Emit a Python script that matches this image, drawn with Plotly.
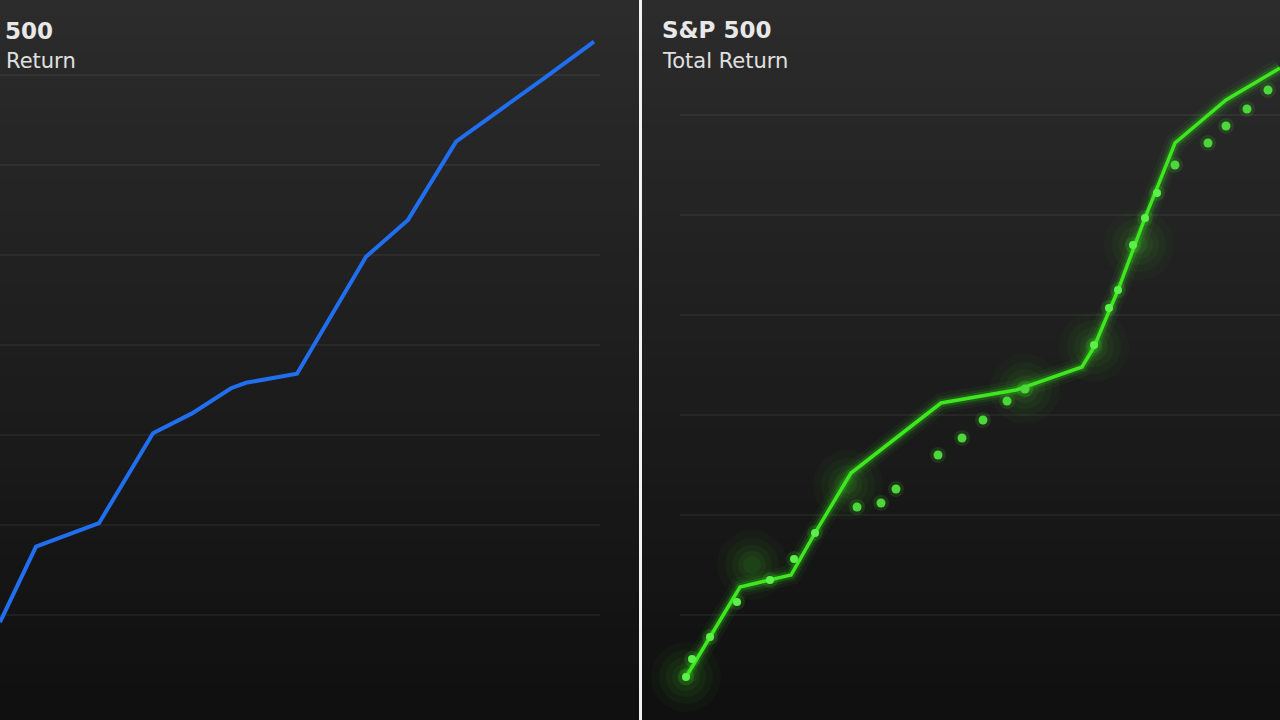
import plotly.graph_objects as go

# ---------------- data ----------------
# Left panel: S&P 500 return index (blue line)
left_years = [2000.0, 2001.2, 2003.3, 2005.1, 2006.4, 2007.7, 2008.2, 2009.9,
              2012.2, 2013.6, 2015.2, 2016.6, 2018.2, 2019.8]
left_values = [92, 176, 202, 302, 324, 352, 358, 368, 498, 539, 626, 659, 698, 737]

# Right panel: S&P 500 total return (green line)
right_years = [2000.2, 2002.0, 2002.7, 2003.7, 2004.5, 2005.7, 2008.7, 2011.2,
               2013.4, 2013.8, 2014.6, 2015.5, 2016.5, 2018.2, 2020.0]
right_values = [38, 128, 133, 140, 182, 242, 312, 325, 348, 368, 425, 497, 572, 615, 647]

# Glowing points sitting on the green line
on_line_years = [2000.2, 2000.4, 2001.0, 2001.9, 2003.0, 2003.8, 2004.5,
                 2013.8, 2014.3, 2014.6, 2015.1, 2015.5, 2015.9]
on_line_values = [38, 56, 78, 113, 135, 156, 182, 370, 407, 425, 470, 497, 522]

# Dotted points trailing under the green line
dot_years = [2005.9, 2006.7, 2007.2, 2008.6, 2009.4, 2010.1, 2010.9, 2011.5,
             2016.5, 2017.6, 2018.2, 2018.9, 2019.6]
dot_values = [208, 212, 226, 260, 277, 295, 314, 326, 550, 572, 589, 606, 625]

# Glow halos (bright spots)
halo_years = [2000.2, 2013.8, 2011.5, 2002.4, 2005.6, 2015.3]
halo_values = [38, 368, 326, 150, 230, 470]

left_grid = [100, 200, 300, 400, 500, 600, 700]
right_grid = [100, 200, 300, 400, 500, 600]

left_title = "500"
left_subtitle = "Return"
right_title = "S&P 500"
right_subtitle = "Total Return"

# ---------------- figure ----------------
fig = go.Figure()

GREEN = "#3ee81f"
BLUE = "#1f6ff0"

# left blue line
fig.add_trace(go.Scatter(x=left_years, y=left_values, mode="lines",
                         line=dict(color=BLUE, width=4), xaxis="x", yaxis="y",
                         hoverinfo="skip", showlegend=False))

# right: soft glow halos (stacked translucent discs)
for s, a in [(70, 0.035), (54, 0.04), (40, 0.05), (28, 0.06), (18, 0.08)]:
    fig.add_trace(go.Scatter(x=halo_years, y=halo_values, mode="markers", cliponaxis=False,
                             marker=dict(size=s, color=f"rgba(70,220,40,{a})", line=dict(width=0)),
                             xaxis="x2", yaxis="y2", hoverinfo="skip", showlegend=False))

# right: line glow layers
for w, a in [(20, 0.05), (13, 0.09), (8, 0.2)]:
    fig.add_trace(go.Scatter(x=right_years, y=right_values, mode="lines",
                             line=dict(color=f"rgba(60,230,30,{a})", width=w),
                             xaxis="x2", yaxis="y2", hoverinfo="skip", showlegend=False))
fig.add_trace(go.Scatter(x=right_years, y=right_values, mode="lines",
                         line=dict(color=GREEN, width=3.5),
                         xaxis="x2", yaxis="y2", hoverinfo="skip", showlegend=False))

# dots with glow
fig.add_trace(go.Scatter(x=dot_years + on_line_years, y=dot_values + on_line_values,
                         mode="markers", cliponaxis=False,
                         marker=dict(size=16, color="rgba(70,230,40,0.13)", line=dict(width=0)),
                         xaxis="x2", yaxis="y2", hoverinfo="skip", showlegend=False))
fig.add_trace(go.Scatter(x=dot_years, y=dot_values, mode="markers",
                         marker=dict(size=9, color="#4cd83a", line=dict(width=0)),
                         xaxis="x2", yaxis="y2", hoverinfo="skip", showlegend=False))
fig.add_trace(go.Scatter(x=on_line_years, y=on_line_values, mode="markers", cliponaxis=False,
                         marker=dict(size=8, color="#5cf04a", line=dict(width=0)),
                         xaxis="x2", yaxis="y2", hoverinfo="skip", showlegend=False))

# ---------------- background gradient ----------------
shapes = []
n = 40
top = (44, 44, 44)
bot = (16, 16, 16)
for i in range(n):
    t = i / (n - 1)
    c = tuple(int(top[k] + (bot[k] - top[k]) * t) for k in range(3))
    shapes.append(dict(type="rect", xref="paper", yref="paper",
                       x0=0, x1=1, y0=1 - (i + 1) / n, y1=1 - i / n + 0.002,
                       fillcolor=f"rgb{c}", line=dict(width=0), layer="below"))
# divider
shapes.append(dict(type="line", xref="paper", yref="paper", x0=640.5 / 1280, x1=640.5 / 1280,
                   y0=0, y1=1, line=dict(color="#f2f2f2", width=3), layer="above"))

common_axis = dict(showticklabels=False, zeroline=False, showline=False, ticks="")

fig.update_layout(
    width=1280, height=720,
    margin=dict(l=0, r=0, t=0, b=0),
    paper_bgcolor="#1a1a1a",
    plot_bgcolor="rgba(0,0,0,0)",
    shapes=shapes,
    xaxis=dict(domain=[0, 600 / 1280], range=[2000, 2020], showgrid=False, **common_axis),
    yaxis=dict(domain=[0, 1], range=[-16.67, 783.33], tickvals=left_grid, showgrid=True,
               gridcolor="rgba(255,255,255,0.05)", gridwidth=2, **common_axis),
    xaxis2=dict(domain=[680 / 1280, 1], range=[2000, 2020], showgrid=False, anchor="y2",
                **common_axis),
    yaxis2=dict(domain=[0, 1], range=[-5, 715], tickvals=right_grid, showgrid=True,
                gridcolor="rgba(255,255,255,0.05)", gridwidth=2, anchor="x2", **common_axis),
    annotations=[
        dict(text=f"<b>{left_title}</b>", xref="paper", yref="paper", x=3 / 1280, y=1 - 31 / 720,
             xanchor="left", yanchor="middle", showarrow=False,
             font=dict(family="DejaVu Sans", size=23, color="#e8e8e8")),
        dict(text=left_subtitle, xref="paper", yref="paper", x=4 / 1280, y=1 - 61 / 720,
             xanchor="left", yanchor="middle", showarrow=False,
             font=dict(family="DejaVu Sans", size=21, color="#e0e0e0")),
        dict(text=f"<b>{right_title}</b>", xref="paper", yref="paper", x=660 / 1280, y=1 - 30 / 720,
             xanchor="left", yanchor="middle", showarrow=False,
             font=dict(family="DejaVu Sans", size=23, color="#e8e8e8")),
        dict(text=right_subtitle, xref="paper", yref="paper", x=660 / 1280, y=1 - 61 / 720,
             xanchor="left", yanchor="middle", showarrow=False,
             font=dict(family="DejaVu Sans", size=21, color="#e0e0e0")),
    ],
)

fig.write_html("out.html", config={"displayModeBar": False},
               post_script="document.body.style.margin='0';")
